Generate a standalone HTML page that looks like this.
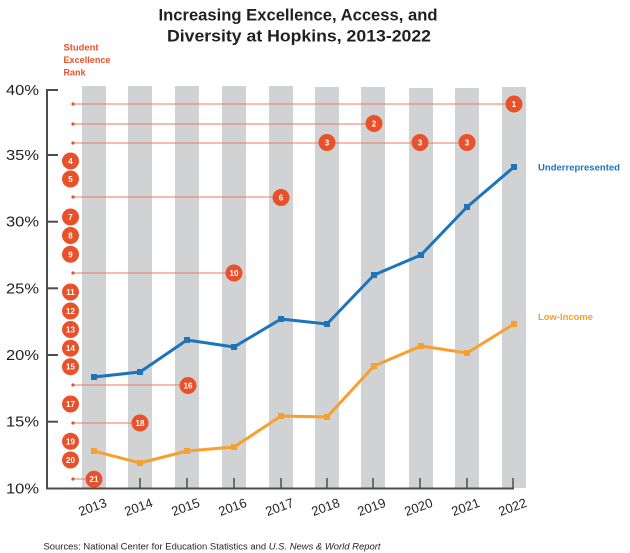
<!DOCTYPE html>
<html><head><meta charset="utf-8"><style>
html,body{margin:0;padding:0;background:#fff;}
svg{display:block;}
text{font-family:"Liberation Sans",sans-serif;}
</style></head><body>
<svg width="630" height="553" viewBox="0 0 630 553" xmlns="http://www.w3.org/2000/svg">
<!-- Title -->
<text x="298" y="20.5" text-anchor="middle" font-size="16.5" font-weight="bold" fill="#231f20" textLength="279" lengthAdjust="spacingAndGlyphs">Increasing Excellence, Access, and</text>
<text x="299" y="41.5" text-anchor="middle" font-size="16.5" font-weight="bold" fill="#231f20" textLength="264" lengthAdjust="spacingAndGlyphs">Diversity at Hopkins, 2013-2022</text>
<!-- Rank header -->
<g font-size="9" font-weight="bold" fill="#e9512b">
<text x="63.5" y="50.5" textLength="35" lengthAdjust="spacingAndGlyphs">Student</text>
<text x="63.5" y="63" textLength="47" lengthAdjust="spacingAndGlyphs">Excellence</text>
<text x="63.5" y="75.5">Rank</text>
</g>
<!-- bars -->
<g fill="#d1d2d4">
<rect x="82" y="86" width="24" height="402"/>
<rect x="128" y="86" width="24" height="402"/>
<rect x="175" y="86" width="24" height="402"/>
<rect x="222" y="86" width="24" height="402"/>
<rect x="269" y="86" width="24" height="402"/>
<rect x="315" y="87" width="24" height="401"/>
<rect x="361" y="87" width="24" height="401"/>
<rect x="409" y="88" width="24" height="400"/>
<rect x="455" y="88" width="24" height="400"/>
<rect x="502" y="87" width="24" height="401"/>
</g>
<!-- axes -->
<g stroke="#4d4d4f" stroke-width="2" fill="none">
<line x1="47" y1="89" x2="47" y2="489"/>
<line x1="46" y1="488.5" x2="514" y2="488.5"/>
<line x1="47" y1="90" x2="58" y2="90"/>
<line x1="47" y1="155" x2="58" y2="155"/>
<line x1="47" y1="221.7" x2="58" y2="221.7"/>
<line x1="47" y1="288.3" x2="58" y2="288.3"/>
<line x1="47" y1="355" x2="58" y2="355"/>
<line x1="47" y1="421.7" x2="58" y2="421.7"/>
</g>
<g stroke="#4d4d4f" stroke-width="1.5">
<line x1="94" y1="478" x2="94" y2="488"/>
<line x1="140" y1="478" x2="140" y2="488"/>
<line x1="187" y1="478" x2="187" y2="488"/>
<line x1="234" y1="478" x2="234" y2="488"/>
<line x1="281" y1="478" x2="281" y2="488"/>
<line x1="327" y1="478" x2="327" y2="488"/>
<line x1="373" y1="478" x2="373" y2="488"/>
<line x1="420" y1="478" x2="420" y2="488"/>
<line x1="467" y1="478" x2="467" y2="488"/>
<line x1="513" y1="478" x2="513" y2="488"/>
</g>
<!-- y labels -->
<g font-size="14.5" fill="#231f20" text-anchor="end">
<text x="39" y="95" textLength="33" lengthAdjust="spacingAndGlyphs">40%</text>
<text x="39" y="160" textLength="33" lengthAdjust="spacingAndGlyphs">35%</text>
<text x="39" y="226.7" textLength="33" lengthAdjust="spacingAndGlyphs">30%</text>
<text x="39" y="293.3" textLength="33" lengthAdjust="spacingAndGlyphs">25%</text>
<text x="39" y="360" textLength="33" lengthAdjust="spacingAndGlyphs">20%</text>
<text x="39" y="426.7" textLength="33" lengthAdjust="spacingAndGlyphs">15%</text>
<text x="39" y="493.3" textLength="33" lengthAdjust="spacingAndGlyphs">10%</text>
</g>
<!-- x labels -->
<g font-size="13" fill="#231f20" text-anchor="middle">
<text transform="translate(92.5,507) rotate(-20)" y="4.5">2013</text>
<text transform="translate(138.5,507) rotate(-20)" y="4.5">2014</text>
<text transform="translate(185.5,507) rotate(-20)" y="4.5">2015</text>
<text transform="translate(232.5,507) rotate(-20)" y="4.5">2016</text>
<text transform="translate(279.5,507) rotate(-20)" y="4.5">2017</text>
<text transform="translate(325.5,507) rotate(-20)" y="4.5">2018</text>
<text transform="translate(371.5,507) rotate(-20)" y="4.5">2019</text>
<text transform="translate(418.5,507) rotate(-20)" y="4.5">2020</text>
<text transform="translate(465.5,507) rotate(-20)" y="4.5">2021</text>
<text transform="translate(512.5,507) rotate(-20)" y="4.5">2022</text>
</g>
<!-- rank lines -->
<g stroke="#ec7a62" stroke-width="1.1">
<line x1="73" y1="104" x2="514" y2="104"/>
<line x1="73" y1="124" x2="374" y2="124"/>
<line x1="73" y1="143" x2="467" y2="143"/>
<line x1="73" y1="197" x2="281" y2="197"/>
<line x1="73" y1="273" x2="234" y2="273"/>
<line x1="73" y1="385" x2="188" y2="385"/>
<line x1="73" y1="423" x2="140" y2="423"/>
<line x1="73" y1="479" x2="94" y2="479"/>
</g>
<g fill="#e9512b">
<circle cx="73" cy="104" r="1.6"/>
<circle cx="73" cy="124" r="1.6"/>
<circle cx="73" cy="143" r="1.6"/>
<circle cx="73" cy="197" r="1.6"/>
<circle cx="73" cy="273" r="1.6"/>
<circle cx="73" cy="385" r="1.6"/>
<circle cx="73" cy="423" r="1.6"/>
<circle cx="73" cy="479" r="1.6"/>
</g>
<!-- rank circles -->
<g fill="#e9512b">
<circle cx="514" cy="104" r="8.5"/>
<circle cx="374" cy="123.5" r="8.5"/>
<circle cx="327" cy="142.5" r="8.5"/>
<circle cx="420" cy="142.5" r="8.5"/>
<circle cx="467" cy="142.5" r="8.5"/>
<circle cx="70.5" cy="161" r="8.5"/>
<circle cx="70.5" cy="179" r="8.5"/>
<circle cx="281" cy="197.5" r="8.5"/>
<circle cx="70.5" cy="217" r="8.5"/>
<circle cx="70.5" cy="235.5" r="8.5"/>
<circle cx="70.5" cy="254.3" r="8.5"/>
<circle cx="234" cy="273" r="8.5"/>
<circle cx="70.5" cy="292" r="8.5"/>
<circle cx="70.5" cy="311" r="8.5"/>
<circle cx="70.5" cy="329.5" r="8.5"/>
<circle cx="70.5" cy="348.2" r="8.5"/>
<circle cx="70.5" cy="366.7" r="8.5"/>
<circle cx="188" cy="385.5" r="8.5"/>
<circle cx="70.5" cy="404" r="8.5"/>
<circle cx="140" cy="423" r="8.5"/>
<circle cx="70.5" cy="441.3" r="8.5"/>
<circle cx="70.5" cy="460" r="8.5"/>
<circle cx="94" cy="479.2" r="8.5"/>
</g>
<g fill="#fff" font-size="8" font-weight="bold" text-anchor="middle">
<text x="514" y="107">1</text>
<text x="374" y="126.5">2</text>
<text x="327" y="145.5">3</text>
<text x="420" y="145.5">3</text>
<text x="467" y="145.5">3</text>
<text x="70.5" y="164">4</text>
<text x="70.5" y="182">5</text>
<text x="281" y="200.5">6</text>
<text x="70.5" y="220">7</text>
<text x="70.5" y="238.5">8</text>
<text x="70.5" y="257.3">9</text>
<text x="234" y="276">10</text>
<text x="70.5" y="295">11</text>
<text x="70.5" y="314">12</text>
<text x="70.5" y="332.5">13</text>
<text x="70.5" y="351.2">14</text>
<text x="70.5" y="369.7">15</text>
<text x="188" y="388.5">16</text>
<text x="70.5" y="407">17</text>
<text x="140" y="426">18</text>
<text x="70.5" y="444.3">19</text>
<text x="70.5" y="463">20</text>
<text x="94" y="482.2">21</text>
</g>
<!-- series -->
<polyline fill="none" stroke="#1b75bc" stroke-width="3" stroke-linejoin="round" points="94,377 140,372 187,340 234,347 281,319 327,324 374,275 421,255 467,207 514,167"/>
<g fill="#1b75bc">
<rect x="91" y="374" width="6" height="6"/>
<rect x="137" y="369" width="6" height="6"/>
<rect x="184" y="337" width="6" height="6"/>
<rect x="231" y="344" width="6" height="6"/>
<rect x="278" y="316" width="6" height="6"/>
<rect x="324" y="321" width="6" height="6"/>
<rect x="371" y="272" width="6" height="6"/>
<rect x="418" y="252" width="6" height="6"/>
<rect x="464" y="204" width="6" height="6"/>
<rect x="511" y="164" width="6" height="6"/>
</g>
<polyline fill="none" stroke="#f5a02f" stroke-width="3" stroke-linejoin="round" points="94,451 140,463 187,451 234,447 281,416 327,417 374,366 421,346 467,353 514,324"/>
<g fill="#f5a02f">
<rect x="91" y="448" width="6" height="6"/>
<rect x="137" y="460" width="6" height="6"/>
<rect x="184" y="448" width="6" height="6"/>
<rect x="231" y="444" width="6" height="6"/>
<rect x="278" y="413" width="6" height="6"/>
<rect x="324" y="414" width="6" height="6"/>
<rect x="371" y="363" width="6" height="6"/>
<rect x="418" y="343" width="6" height="6"/>
<rect x="464" y="350" width="6" height="6"/>
<rect x="511" y="321" width="6" height="6"/>
</g>
<!-- series labels -->
<text x="538" y="170.5" font-size="9.5" font-weight="bold" fill="#1b75bc" textLength="82" lengthAdjust="spacingAndGlyphs">Underrepresented</text>
<text x="538" y="320" font-size="9.5" font-weight="bold" fill="#f5a02f" textLength="55" lengthAdjust="spacingAndGlyphs">Low-Income</text>
<!-- footer -->
<text x="43.5" y="549.3" font-size="9" fill="#231f20" textLength="337" lengthAdjust="spacingAndGlyphs">Sources: National Center for Education Statistics and <tspan font-style="italic">U.S. News &amp; World Report</tspan></text>
</svg>
</body></html>
